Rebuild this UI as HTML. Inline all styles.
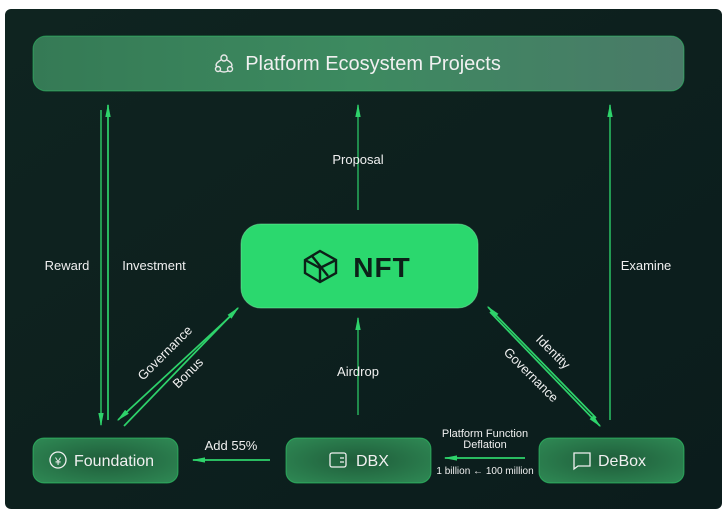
<!DOCTYPE html>
<html><head><style>
body{margin:0;background:#fff;width:725px;height:512px;overflow:hidden;font-family:"Liberation Sans",sans-serif}
</style></head><body>
<svg width="725" height="512" xmlns="http://www.w3.org/2000/svg">
<defs>
<linearGradient id="bg" x1="0" y1="0" x2="1" y2="1"><stop offset="0" stop-color="#0f2420"/><stop offset="1" stop-color="#0b1c1c"/></linearGradient>
<linearGradient id="top" x1="0" x2="1"><stop offset="0" stop-color="#357a55"/><stop offset="0.5" stop-color="#3d8a60"/><stop offset="1" stop-color="#4a7a68"/></linearGradient>
<radialGradient id="nd" cx="0.5" cy="0.5" r="0.7"><stop offset="0" stop-color="#1f5c3a"/><stop offset="1" stop-color="#2f8a55"/></radialGradient>
<marker id="ah" viewBox="0 0 10 10" refX="9" refY="5" markerWidth="8" markerHeight="8" orient="auto-start-reverse"><path d="M0,3 L10,5 L0,7 Z" fill="#2ed36b"/></marker>
</defs>
<rect x="5" y="9" width="717" height="500" rx="6" fill="url(#bg)"/>
<rect x="33" y="36" width="651" height="55" rx="13" fill="url(#top)" stroke="#2ed36b" stroke-opacity=".5"/>
<text x="373" y="70" fill="#f0f0f0" font-size="20" text-anchor="middle">Platform Ecosystem Projects</text>
<g stroke="#e8e8e8" stroke-width="1.4" fill="none"><circle cx="224" cy="58" r="3"/><circle cx="218" cy="69" r="2.5"/><circle cx="230" cy="69" r="2.5"/><path d="M221,60 Q214,64 217,67 M227,60 Q234,64 231,67 M220,71 Q224,73 228,71"/></g>
<rect x="241" y="224" width="237" height="84" rx="20" fill="#2bd86e" stroke="#7ef0a8" stroke-opacity=".5"/>
<text x="382" y="277" fill="#0c2018" font-size="28" font-weight="bold" text-anchor="middle" letter-spacing="1">NFT</text>
<g stroke="#0c2018" stroke-width="2.4" fill="none"><polygon points="320,251 336,260 336,273 320,282 305,273 305,260"/><path d="M305,260 L320,268 L336,260 M320,268 L320,282 M312,256 L328,276"/></g>
<g stroke-width="1.7" stroke="#2ed36b" fill="none" marker-end="url(#ah)">
<line x1="108" y1="420" x2="108" y2="105"/>
<line x1="101" y1="110" x2="101" y2="425" stroke-opacity=".8"/>
<line x1="358" y1="210" x2="358" y2="105" stroke-opacity=".7"/>
<line x1="358" y1="415" x2="358" y2="318" stroke-opacity=".7"/>
<line x1="610" y1="420" x2="610" y2="105" stroke-opacity=".8"/>
<line x1="235" y1="312" x2="118" y2="420"/>
<line x1="124" y1="426" x2="238" y2="308"/>
<line x1="596" y1="418" x2="488" y2="307"/>
<line x1="490" y1="312" x2="600" y2="426"/>
<line x1="270" y1="460" x2="193" y2="460"/>
<line x1="525" y1="458" x2="445" y2="458"/>
</g>
<g fill="#f0f0f0" font-size="13">
<text x="358" y="164" text-anchor="middle">Proposal</text>
<text x="67" y="270" text-anchor="middle">Reward</text>
<text x="154" y="270" text-anchor="middle">Investment</text>
<text x="646" y="270" text-anchor="middle">Examine</text>
<text x="358" y="376" text-anchor="middle">Airdrop</text>
<text x="231" y="450" text-anchor="middle">Add 55%</text>
<text x="485" y="437" text-anchor="middle" font-size="11">Platform Function</text>
<text x="485" y="448" text-anchor="middle" font-size="11">Deflation</text>
<text x="485" y="474" text-anchor="middle" font-size="10">1 billion ← 100 million</text>
<text transform="translate(168,356) rotate(-45)" text-anchor="middle">Governance</text>
<text transform="translate(191,376) rotate(-45)" text-anchor="middle">Bonus</text>
<text transform="translate(550,355) rotate(45)" text-anchor="middle">Identity</text>
<text transform="translate(528,378) rotate(45)" text-anchor="middle">Governance</text>
</g>
<g stroke="#2ed36b" stroke-opacity=".6" fill="url(#nd)">
<rect x="33" y="438" width="145" height="45" rx="11"/>
<rect x="286" y="438" width="145" height="45" rx="11"/>
<rect x="539" y="438" width="145" height="45" rx="11"/>
</g>
<g fill="#f0f0f0" font-size="16">
<text x="74" y="466">Foundation</text>
<text x="356" y="466">DBX</text>
<text x="598" y="466">DeBox</text>
</g>
<g stroke="#f0f0f0" stroke-width="1.3" fill="none">
<circle cx="58" cy="460" r="8"/><text x="58" y="465" fill="#f0f0f0" stroke="none" font-size="11" text-anchor="middle">¥</text>
<rect x="330" y="453" width="16" height="14" rx="2"/><path d="M340,458 h4 M340,462 h4"/>
<path d="M574,453 h16 v13 h-12 l-4,3 z"/>
</g>
</svg>
</body></html>
